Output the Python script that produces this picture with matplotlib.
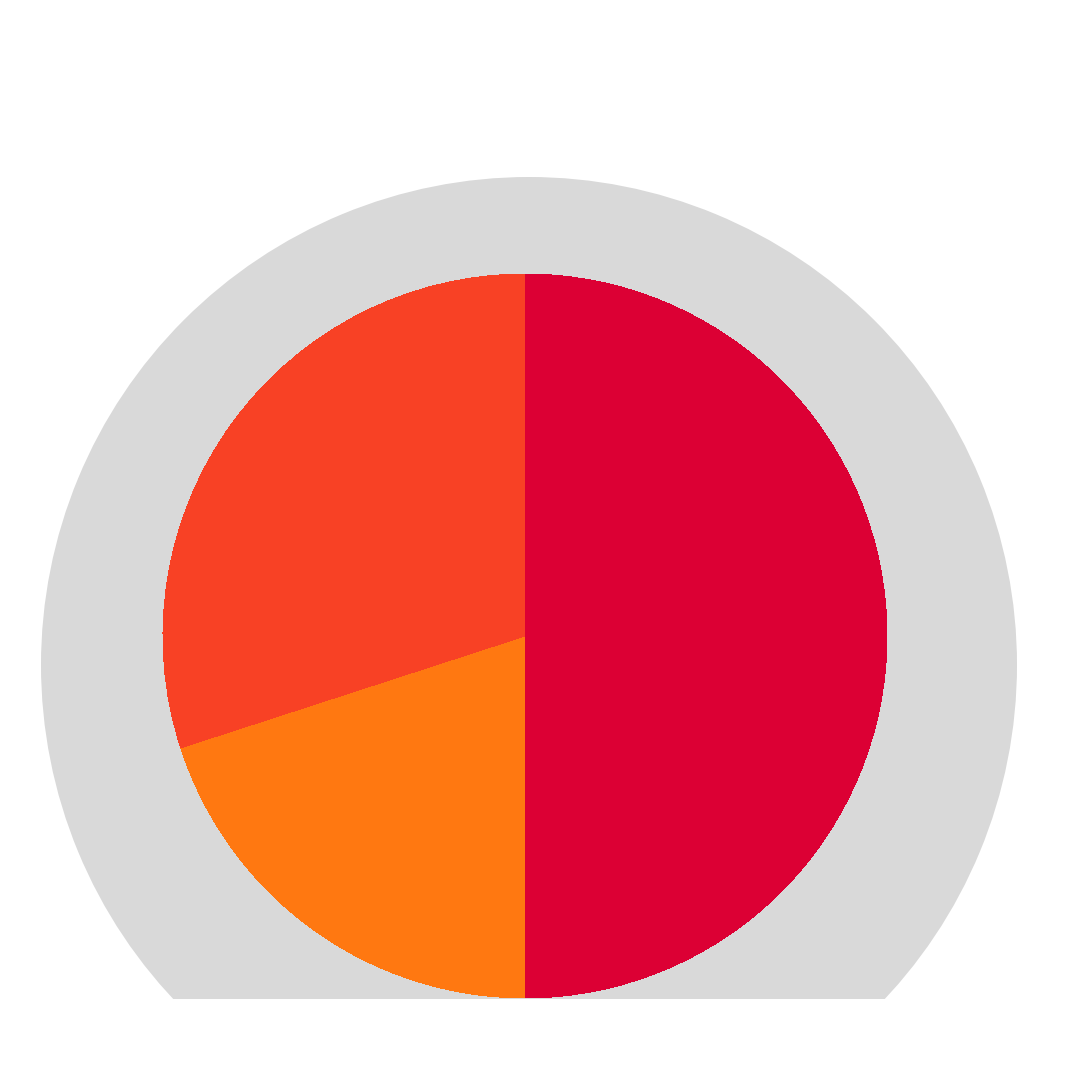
import matplotlib
matplotlib.use("Agg")
import matplotlib.pyplot as plt

# slice shares, clockwise from the top
shares = [50, 20, 30]
slice_colors = ["#DC0034", "#FF7811", "#F84125"]
background = [100]

W = H = 1080
clip_bottom = 1080 - 999

fig = plt.figure(figsize=(10.8, 10.8), dpi=100)
fig.patch.set_facecolor("white")
ax = fig.add_axes([0, clip_bottom / H, 1, (H - clip_bottom) / H])

# big grey disc behind the pie
bg, _ = ax.pie(background, colors=["#D9D9D9"], radius=488, center=(529, 1080 - 665),
               startangle=90, wedgeprops=dict(linewidth=0))

wedges, _ = ax.pie(shares, colors=slice_colors, radius=362, center=(525, 1080 - 636),
                   startangle=90, counterclock=False,
                   wedgeprops=dict(linewidth=0, antialiased=False))

# the plot area cuts everything off at the bottom
for w in bg + wedges:
    w.set_clip_on(True)
    w.set_clip_path(ax.patch)

ax.set_xlim(0, W)
ax.set_ylim(clip_bottom, H)
ax.set_aspect("auto")
ax.axis("off")

fig.savefig("out.png", dpi=100, facecolor="white")
